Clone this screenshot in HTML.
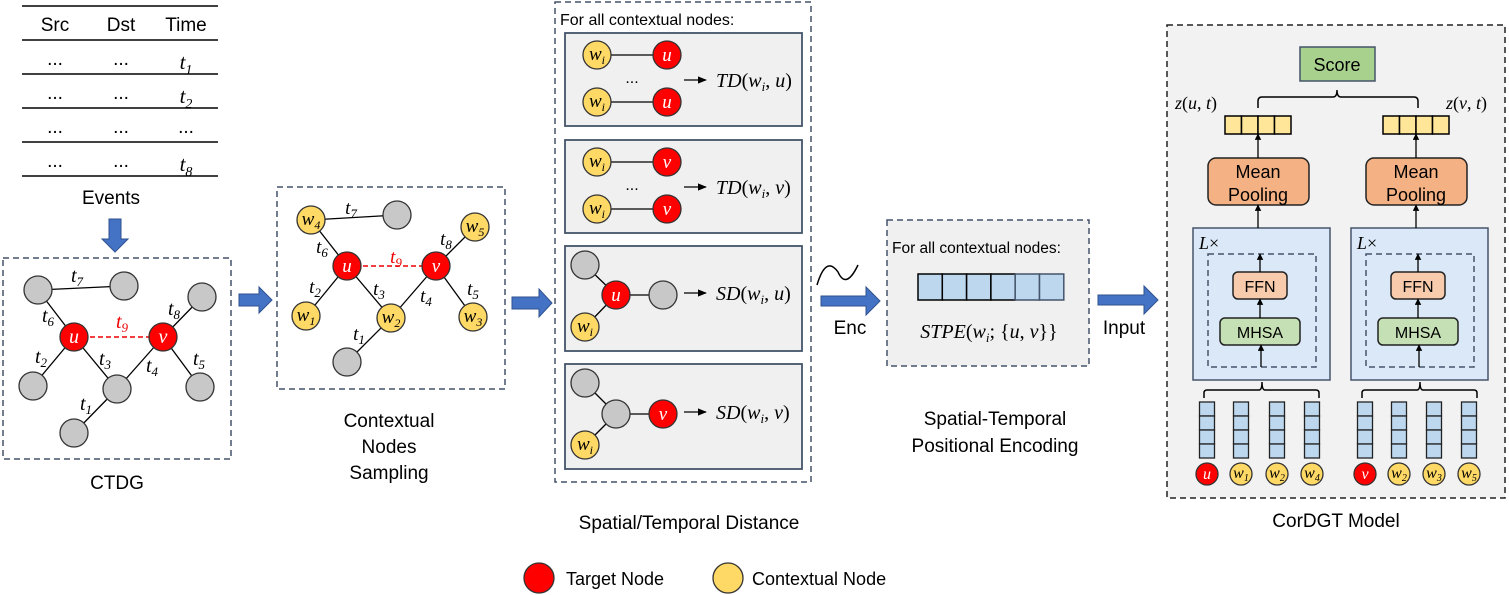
<!DOCTYPE html>
<html><head><meta charset="utf-8"><style>
html,body{margin:0;padding:0;background:#fff}
svg{display:block}
.s{font-family:"Liberation Sans",sans-serif}
.m{font-family:"Liberation Serif",serif;font-style:italic}
</style></head><body>
<svg width="1509" height="595" viewBox="0 0 1509 595" xmlns="http://www.w3.org/2000/svg">
<defs>
<marker id="ah" viewBox="0 0 10 10" refX="9" refY="5" markerWidth="7" markerHeight="7" orient="auto"><path d="M0,1 L10,5 L0,9z" fill="#000"/></marker>
<marker id="ah2" viewBox="0 0 10 10" refX="9" refY="5" markerWidth="5" markerHeight="5" orient="auto"><path d="M0,0 L10,5 L0,10z" fill="#000"/></marker>
<g id="vec"><rect x="-7.5" y="402" width="15" height="14"/><rect x="-7.5" y="416" width="15" height="14"/><rect x="-7.5" y="430" width="15" height="14"/><rect x="-7.5" y="444" width="15" height="14"/></g>
</defs>
<!-- Table -->
<g stroke="#000" stroke-width="1.5">
<line x1="22" y1="6" x2="218" y2="6"/><line x1="22" y1="40" x2="218" y2="40"/><line x1="22" y1="74" x2="218" y2="74"/>
<line x1="22" y1="108" x2="218" y2="108"/><line x1="22" y1="142" x2="218" y2="142"/><line x1="22" y1="176" x2="218" y2="176"/>
</g>
<g class="s" font-size="19" text-anchor="middle">
<text x="55" y="31">Src</text><text x="121" y="31">Dst</text><text x="186" y="31">Time</text>
<text x="55" y="65">...</text><text x="121" y="65">...</text>
<text x="55" y="99">...</text><text x="121" y="99">...</text>
<text x="55" y="133">...</text><text x="121" y="133">...</text><text x="186" y="133">...</text>
<text x="55" y="167">...</text><text x="121" y="167">...</text>
<text x="111" y="204">Events</text>
<text x="117" y="489">CTDG</text>
<text x="389" y="427">Contextual</text><text x="389" y="453">Nodes</text><text x="389" y="479">Sampling</text>
<text x="689" y="529">Spatial/Temporal Distance</text>
<text x="850" y="334">Enc</text>
<text x="1124" y="334">Input</text>
<text x="995" y="425">Spatial-Temporal</text><text x="995" y="452">Positional Encoding</text>
<text x="1336" y="527">CorDGT Model</text>
</g>
<g class="m" font-size="21" text-anchor="middle">
<text x="186" y="69">t<tspan font-size="14" dy="5">1</tspan></text>
<text x="186" y="103">t<tspan font-size="14" dy="5">2</tspan></text>
<text x="186" y="171">t<tspan font-size="14" dy="5">8</tspan></text>
</g>
<!-- blue arrows -->
<g fill="#4472c4" stroke="#2f528f" stroke-width="1">
<path d="M109,219 h12 v20 h7 l-13,13 l-13,-13 h7z"/>
<path d="M239,294 h20 v-7 l13,13 l-13,13 v-7 h-20z"/>
<path d="M512,297 h27 v-8 l13,14 l-13,14 v-8 h-27z"/>
<path d="M821,296 h45 v-9 l14,14 l-14,14 v-9 h-45z"/>
<path d="M1098,295 h46 v-9 l14,14 l-14,14 v-9 h-46z"/>
</g>
<path d="M817,285 Q826,255 838,272 Q846,290 858,265" fill="none" stroke="#000" stroke-width="1.5"/>
<!-- CTDG -->
<rect x="3" y="258" width="228" height="201" fill="none" stroke="#44546a" stroke-width="1.5" stroke-dasharray="6,4"/>
<g stroke="#000" stroke-width="1.3">
<line x1="38" y1="290" x2="124" y2="286"/><line x1="38" y1="290" x2="74" y2="337"/>
<line x1="74" y1="337" x2="33" y2="386"/><line x1="74" y1="337" x2="117" y2="389"/>
<line x1="117" y1="389" x2="163" y2="337"/><line x1="117" y1="389" x2="74" y2="433"/>
<line x1="163" y1="337" x2="202" y2="297"/><line x1="163" y1="337" x2="200" y2="387"/>
</g>
<line x1="74" y1="337" x2="163" y2="337" stroke="#e00" stroke-width="1.5" stroke-dasharray="5,3"/>
<g stroke="#333" stroke-width="1.3" fill="#c8c8c8">
<circle cx="38" cy="290" r="14"/><circle cx="124" cy="286" r="14"/><circle cx="202" cy="297" r="14"/>
<circle cx="33" cy="386" r="14"/><circle cx="117" cy="389" r="14"/><circle cx="200" cy="387" r="14"/><circle cx="74" cy="433" r="14"/>
<circle cx="74" cy="337" r="14" fill="#f00"/><circle cx="163" cy="337" r="14" fill="#f00"/>
</g>
<g class="m" font-size="20" text-anchor="middle">
<text x="74" y="343" fill="#fff">u</text><text x="163" y="343" fill="#fff">v</text>
<text x="77" y="282">t<tspan font-size="13" dy="4">7</tspan></text>
<text x="48" y="322">t<tspan font-size="13" dy="4">6</tspan></text>
<text x="122" y="328" fill="#e00">t<tspan font-size="13" dy="4">9</tspan></text>
<text x="174" y="315">t<tspan font-size="13" dy="4">8</tspan></text>
<text x="41" y="363">t<tspan font-size="13" dy="4">2</tspan></text>
<text x="105" y="365">t<tspan font-size="13" dy="4">3</tspan></text>
<text x="152" y="372">t<tspan font-size="13" dy="4">4</tspan></text>
<text x="199" y="365">t<tspan font-size="13" dy="4">5</tspan></text>
<text x="86" y="410">t<tspan font-size="13" dy="4">1</tspan></text>
</g>
<!-- Contextual -->
<rect x="277" y="187" width="228" height="202" fill="none" stroke="#44546a" stroke-width="1.5" stroke-dasharray="6,4"/>
<g stroke="#000" stroke-width="1.3">
<line x1="311" y1="220" x2="397" y2="215"/><line x1="311" y1="220" x2="347" y2="266"/>
<line x1="347" y1="266" x2="306" y2="316"/><line x1="347" y1="266" x2="391" y2="318"/>
<line x1="391" y1="318" x2="436" y2="266"/><line x1="391" y1="318" x2="347" y2="362"/>
<line x1="436" y1="266" x2="475" y2="227"/><line x1="436" y1="266" x2="473" y2="317"/>
</g>
<line x1="347" y1="266" x2="436" y2="266" stroke="#e00" stroke-width="1.5" stroke-dasharray="5,3"/>
<g stroke="#333" stroke-width="1.3" fill="#ffd966">
<circle cx="311" cy="220" r="14"/><circle cx="397" cy="215" r="14" fill="#c8c8c8"/><circle cx="475" cy="227" r="14"/>
<circle cx="306" cy="316" r="14"/><circle cx="391" cy="318" r="14"/><circle cx="473" cy="317" r="14"/>
<circle cx="347" cy="362" r="14" fill="#c8c8c8"/>
<circle cx="347" cy="266" r="14" fill="#f00"/><circle cx="436" cy="266" r="14" fill="#f00"/>
</g>
<g class="m" font-size="19" text-anchor="middle">
<text x="347" y="272" fill="#fff">u</text><text x="436" y="272" fill="#fff">v</text>
<text x="311" y="225">w<tspan font-size="12" dy="4">4</tspan></text>
<text x="475" y="232">w<tspan font-size="12" dy="4">5</tspan></text>
<text x="306" y="321">w<tspan font-size="12" dy="4">1</tspan></text>
<text x="391" y="323">w<tspan font-size="12" dy="4">2</tspan></text>
<text x="473" y="322">w<tspan font-size="12" dy="4">3</tspan></text>
<text x="351" y="214">t<tspan font-size="13" dy="4">7</tspan></text>
<text x="322" y="253">t<tspan font-size="13" dy="4">6</tspan></text>
<text x="396" y="263" fill="#e00">t<tspan font-size="13" dy="4">9</tspan></text>
<text x="446" y="245">t<tspan font-size="13" dy="4">8</tspan></text>
<text x="315" y="293">t<tspan font-size="13" dy="4">2</tspan></text>
<text x="379" y="295">t<tspan font-size="13" dy="4">3</tspan></text>
<text x="426" y="302">t<tspan font-size="13" dy="4">4</tspan></text>
<text x="473" y="295">t<tspan font-size="13" dy="4">5</tspan></text>
<text x="359" y="340">t<tspan font-size="13" dy="4">1</tspan></text>
</g>
<!-- Spatial/Temporal -->
<rect x="555" y="2" width="256" height="480" fill="none" stroke="#44546a" stroke-width="1.5" stroke-dasharray="6,4"/>
<text x="560" y="25" class="s" font-size="16">For all contextual nodes:</text>
<g fill="#f0f0f0" stroke="#44546a" stroke-width="1.8">
<rect x="565" y="33" width="237" height="93"/><rect x="565" y="140" width="237" height="93"/>
<rect x="565" y="246" width="237" height="105"/><rect x="565" y="364" width="237" height="105"/>
</g>
<g stroke="#000" stroke-width="1.3">
<line x1="597" y1="55" x2="667" y2="55"/><line x1="597" y1="102" x2="667" y2="102"/>
<line x1="597" y1="162" x2="667" y2="162"/><line x1="597" y1="209" x2="667" y2="209"/>
<line x1="585" y1="265" x2="616" y2="295"/><line x1="616" y1="295" x2="663" y2="295"/><line x1="616" y1="295" x2="585" y2="327"/>
<line x1="585" y1="383" x2="616" y2="414"/><line x1="616" y1="414" x2="663" y2="414"/><line x1="616" y1="414" x2="585" y2="445"/>
<line x1="684" y1="80" x2="706" y2="80" marker-end="url(#ah)"/>
<line x1="684" y1="187" x2="706" y2="187" marker-end="url(#ah)"/>
<line x1="684" y1="293" x2="706" y2="293" marker-end="url(#ah)"/>
<line x1="684" y1="412" x2="706" y2="412" marker-end="url(#ah)"/>
</g>
<g stroke="#333" stroke-width="1.3" fill="#ffd966">
<circle cx="597" cy="55" r="14"/><circle cx="667" cy="55" r="14" fill="#f00"/>
<circle cx="597" cy="102" r="14"/><circle cx="667" cy="102" r="14" fill="#f00"/>
<circle cx="597" cy="162" r="14"/><circle cx="667" cy="162" r="14" fill="#f00"/>
<circle cx="597" cy="209" r="14"/><circle cx="667" cy="209" r="14" fill="#f00"/>
<circle cx="585" cy="265" r="14" fill="#c8c8c8"/><circle cx="616" cy="295" r="14" fill="#f00"/><circle cx="663" cy="295" r="14" fill="#c8c8c8"/><circle cx="585" cy="327" r="14"/>
<circle cx="585" cy="383" r="14" fill="#c8c8c8"/><circle cx="616" cy="414" r="14" fill="#c8c8c8"/><circle cx="663" cy="414" r="14" fill="#f00"/><circle cx="585" cy="445" r="14"/>
</g>
<g class="m" font-size="19" text-anchor="middle">
<text x="597" y="60">w<tspan font-size="12" dy="4">i</tspan></text><text x="667" y="61" fill="#fff">u</text>
<text x="597" y="107">w<tspan font-size="12" dy="4">i</tspan></text><text x="667" y="108" fill="#fff">u</text>
<text x="597" y="167">w<tspan font-size="12" dy="4">i</tspan></text><text x="667" y="168" fill="#fff">v</text>
<text x="597" y="214">w<tspan font-size="12" dy="4">i</tspan></text><text x="667" y="215" fill="#fff">v</text>
<text x="616" y="301" fill="#fff">u</text><text x="585" y="332">w<tspan font-size="12" dy="4">i</tspan></text>
<text x="663" y="420" fill="#fff">v</text><text x="585" y="450">w<tspan font-size="12" dy="4">i</tspan></text>
</g>
<g class="s" font-size="16" text-anchor="middle"><text x="632" y="83">...</text><text x="632" y="190">...</text></g>
<g class="m" font-size="20">
<text x="716" y="87">TD<tspan font-style="normal">(</tspan>w<tspan font-size="13" dy="4">i</tspan><tspan dy="-4" font-style="normal">, </tspan>u<tspan font-style="normal">)</tspan></text>
<text x="716" y="194">TD<tspan font-style="normal">(</tspan>w<tspan font-size="13" dy="4">i</tspan><tspan dy="-4" font-style="normal">, </tspan>v<tspan font-style="normal">)</tspan></text>
<text x="716" y="300">SD<tspan font-style="normal">(</tspan>w<tspan font-size="13" dy="4">i</tspan><tspan dy="-4" font-style="normal">, </tspan>u<tspan font-style="normal">)</tspan></text>
<text x="716" y="419">SD<tspan font-style="normal">(</tspan>w<tspan font-size="13" dy="4">i</tspan><tspan dy="-4" font-style="normal">, </tspan>v<tspan font-style="normal">)</tspan></text>
</g>
<!-- STPE -->
<rect x="887" y="220" width="202" height="146" fill="#f0f0f0" stroke="#44546a" stroke-width="1.5" stroke-dasharray="6,4"/>
<text x="892" y="253" class="s" font-size="15.5">For all contextual nodes:</text>
<g fill="#bdd7ee" stroke="#000" stroke-width="1.5">
<rect x="918" y="274" width="24.3" height="26"/><rect x="942.3" y="274" width="24.3" height="26"/><rect x="966.6" y="274" width="24.3" height="26"/>
<rect x="990.9" y="274" width="24.3" height="26"/><rect x="1015.2" y="274" width="24.3" height="26" stroke="#44546a"/><rect x="1039.5" y="274" width="24.3" height="26" stroke="#44546a"/>
</g>
<text x="989" y="338" class="m" font-size="20" text-anchor="middle">STPE<tspan font-style="normal">(</tspan>w<tspan font-size="13" dy="4">i</tspan><tspan dy="-4" font-style="normal">; {</tspan>u<tspan font-style="normal">, </tspan>v<tspan font-style="normal">}}</tspan></text>
<!-- CorDGT -->
<rect x="1167" y="25" width="338" height="473" fill="#f2f2f2" stroke="#222" stroke-width="1.5" stroke-dasharray="6,4"/>
<rect x="1300" y="47" width="75" height="34" fill="#a9d18e" stroke="#44546a" stroke-width="1.5"/>
<text x="1337" y="71" class="s" font-size="18" text-anchor="middle">Score</text>
<path d="M1258,108 V101 Q1258,97 1262,97 H1333 Q1337,97 1337,90 Q1337,97 1341,97 H1414 Q1418,97 1418,101 V108" fill="none" stroke="#000" stroke-width="1.5"/>
<g class="m" font-size="18"><text x="1175" y="109">z<tspan font-style="normal">(</tspan>u<tspan font-style="normal">, </tspan>t<tspan font-style="normal">)</tspan></text>
<text x="1446" y="109">z<tspan font-style="normal">(</tspan>v<tspan font-style="normal">, </tspan>t<tspan font-style="normal">)</tspan></text></g>
<g fill="#ffe699" stroke="#000" stroke-width="1.5">
<rect x="1225" y="116" width="16.5" height="18"/><rect x="1241.5" y="116" width="16.5" height="18"/><rect x="1258" y="116" width="16.5" height="18"/><rect x="1274.5" y="116" width="16.5" height="18"/>
<rect x="1383" y="116" width="16.5" height="18"/><rect x="1399.5" y="116" width="16.5" height="18"/><rect x="1416" y="116" width="16.5" height="18"/><rect x="1432.5" y="116" width="16.5" height="18"/>
</g>
<g fill="#f4b183" stroke="#222" stroke-width="1.5">
<rect x="1208" y="158" width="101" height="47" rx="8"/><rect x="1366" y="158" width="101" height="47" rx="8"/>
</g>
<g class="s" font-size="18" text-anchor="middle">
<text x="1258" y="178">Mean</text><text x="1258" y="201">Pooling</text>
<text x="1416" y="178">Mean</text><text x="1416" y="201">Pooling</text>
</g>
<g fill="#dae8f7" stroke="#44546a" stroke-width="1.5">
<rect x="1193" y="228" width="137" height="152"/><rect x="1351" y="228" width="137" height="152"/>
</g>
<g fill="none" stroke="#44546a" stroke-width="1.5" stroke-dasharray="6,4">
<rect x="1208" y="254" width="108" height="113"/><rect x="1366" y="254" width="108" height="113"/>
</g>
<g class="m" font-size="18"><text x="1199" y="249">L<tspan font-style="normal">×</tspan></text><text x="1357" y="249">L<tspan font-style="normal">×</tspan></text></g>
<g fill="#f8cbad" stroke="#222" stroke-width="1.5">
<rect x="1233" y="272" width="54" height="27" rx="5"/><rect x="1391" y="272" width="54" height="27" rx="5"/>
</g>
<g fill="#c5e0b4" stroke="#222" stroke-width="1.5">
<rect x="1220" y="318" width="80" height="27" rx="5"/><rect x="1378" y="318" width="80" height="27" rx="5"/>
</g>
<g class="s" font-size="16" text-anchor="middle">
<text x="1260" y="292">FFN</text><text x="1418" y="292">FFN</text>
<text x="1260" y="338">MHSA</text><text x="1418" y="338">MHSA</text>
</g>
<g stroke="#000" stroke-width="1.3" marker-end="url(#ah2)">
<line x1="1258" y1="158" x2="1258" y2="134"/><line x1="1416" y1="158" x2="1416" y2="134"/>
<line x1="1258" y1="228" x2="1258" y2="205"/><line x1="1416" y1="228" x2="1416" y2="205"/>
<line x1="1260" y1="272" x2="1260" y2="254"/><line x1="1418" y1="272" x2="1418" y2="254"/>
<line x1="1260" y1="318" x2="1260" y2="299"/><line x1="1418" y1="318" x2="1418" y2="299"/>
<line x1="1261" y1="367" x2="1261" y2="345"/><line x1="1419" y1="367" x2="1419" y2="345"/>
</g>
<path d="M1204,398 V393 Q1204,390 1207,390 H1259 Q1262,390 1262,382 Q1262,390 1265,390 H1316 Q1319,390 1319,393 V398" fill="none" stroke="#000" stroke-width="1.5"/>
<path d="M1362,398 V393 Q1362,390 1365,390 H1417 Q1420,390 1420,382 Q1420,390 1423,390 H1474 Q1477,390 1477,393 V398" fill="none" stroke="#000" stroke-width="1.5"/>
<g fill="#bdd7ee" stroke="#222" stroke-width="1.3">
<use href="#vec" x="1207"/><use href="#vec" x="1241"/><use href="#vec" x="1277"/><use href="#vec" x="1312"/>
<use href="#vec" x="1365"/><use href="#vec" x="1399"/><use href="#vec" x="1434"/><use href="#vec" x="1469"/>
</g>
<g stroke="#333" stroke-width="1.3" fill="#ffd966">
<circle cx="1207" cy="474" r="11" fill="#f00"/><circle cx="1241" cy="474" r="11"/><circle cx="1277" cy="474" r="11"/><circle cx="1312" cy="474" r="11"/>
<circle cx="1365" cy="474" r="11" fill="#f00"/><circle cx="1399" cy="474" r="11"/><circle cx="1434" cy="474" r="11"/><circle cx="1469" cy="474" r="11"/>
</g>
<g class="m" font-size="16" text-anchor="middle">
<text x="1207" y="479" fill="#fff">u</text><text x="1241" y="478">w<tspan font-size="10" dy="3">1</tspan></text><text x="1277" y="478">w<tspan font-size="10" dy="3">2</tspan></text><text x="1312" y="478">w<tspan font-size="10" dy="3">4</tspan></text>
<text x="1365" y="479" fill="#fff">v</text><text x="1399" y="478">w<tspan font-size="10" dy="3">2</tspan></text><text x="1434" y="478">w<tspan font-size="10" dy="3">3</tspan></text><text x="1469" y="478">w<tspan font-size="10" dy="3">5</tspan></text>
</g>
<!-- legend -->
<circle cx="539" cy="578" r="15" fill="#f00" stroke="#333" stroke-width="1.3"/>
<circle cx="728" cy="578" r="15" fill="#ffd966" stroke="#333" stroke-width="1.3"/>
<g class="s" font-size="18"><text x="566" y="585">Target Node</text><text x="752" y="585">Contextual Node</text></g>
</svg>
</body></html>
